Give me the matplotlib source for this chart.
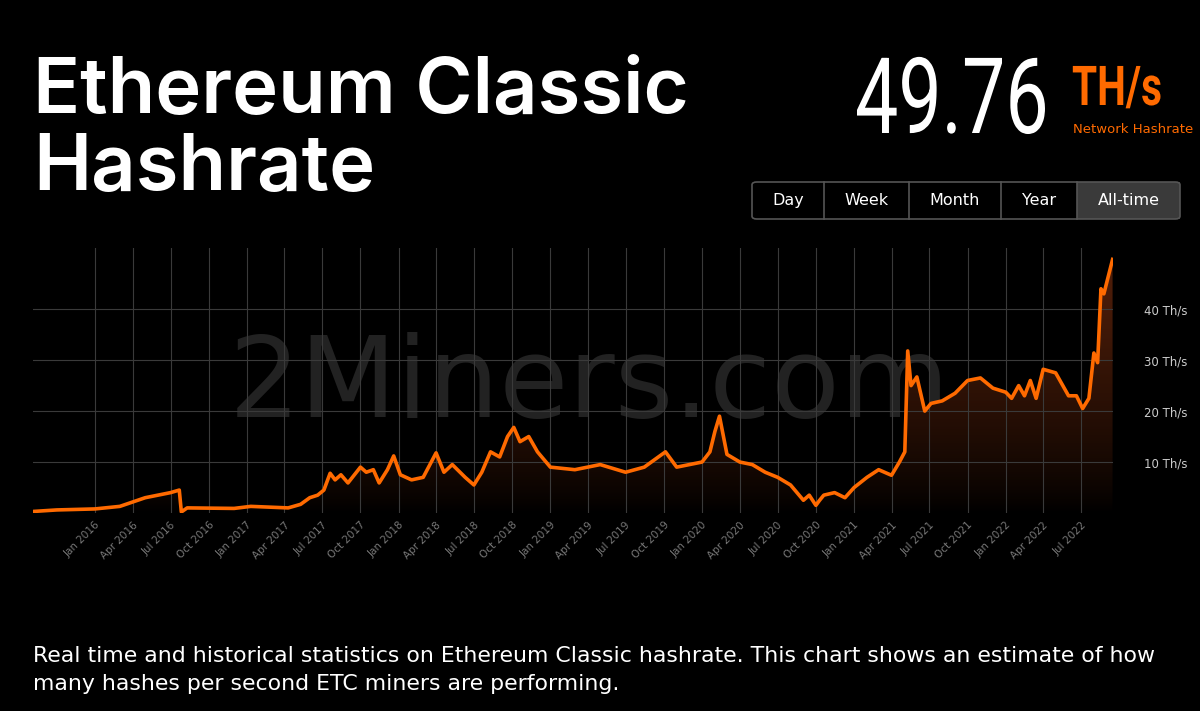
import matplotlib
matplotlib.use("Agg")
import matplotlib.pyplot as plt
import matplotlib.dates as mdates
from matplotlib.patches import FancyBboxPatch, Rectangle, PathPatch
from matplotlib.textpath import TextPath
from matplotlib.font_manager import FontProperties
from matplotlib.transforms import Affine2D, IdentityTransform
import numpy as np
import pandas as pd

DATES = [
    "2015-08-05", "2015-10-01", "2016-01-01", "2016-03-01", "2016-05-01", "2016-07-01",
    "2016-07-22", "2016-07-27", "2016-08-10", "2016-12-01", "2017-01-10", "2017-04-10",
    "2017-05-10", "2017-06-01", "2017-06-20", "2017-07-05", "2017-07-20", "2017-08-01",
    "2017-08-15", "2017-09-01", "2017-10-01", "2017-10-15", "2017-11-01", "2017-11-15",
    "2017-12-05", "2017-12-20", "2018-01-05", "2018-02-01", "2018-03-01", "2018-04-01",
    "2018-04-20", "2018-05-10", "2018-06-10", "2018-07-01", "2018-07-20", "2018-08-10",
    "2018-09-01", "2018-09-20", "2018-10-05", "2018-10-20", "2018-11-10", "2018-12-01",
    "2019-01-01", "2019-03-01", "2019-05-01", "2019-07-01", "2019-08-15", "2019-10-05",
    "2019-11-01", "2020-01-01", "2020-01-20", "2020-02-01", "2020-02-12", "2020-03-01",
    "2020-04-01", "2020-05-01", "2020-06-01", "2020-07-01", "2020-08-01", "2020-09-01",
    "2020-09-15", "2020-10-01", "2020-10-10", "2020-10-20", "2020-11-15", "2020-12-10",
    "2021-01-01", "2021-02-01", "2021-03-01", "2021-04-01", "2021-04-20", "2021-05-03",
    "2021-05-10", "2021-05-18", "2021-06-01", "2021-06-20", "2021-07-05", "2021-08-01",
    "2021-09-01", "2021-10-01", "2021-11-01", "2021-12-01", "2022-01-01", "2022-01-15",
    "2022-02-01", "2022-02-15", "2022-03-01", "2022-03-15", "2022-04-01", "2022-05-01",
    "2022-06-01", "2022-06-20", "2022-07-05", "2022-07-20", "2022-08-01", "2022-08-10",
    "2022-08-18", "2022-08-25", "2022-09-15",
]
HASHRATE = [
    0.3, 0.6, 0.8, 1.3, 3.0, 4.0,
    4.5, 0.2, 1.0, 0.9, 1.3, 1.0,
    1.7, 3.0, 3.5, 4.5, 7.8, 6.5,
    7.5, 5.9, 9.0, 8.0, 8.5, 5.9,
    8.5, 11.2, 7.5, 6.5, 7.0, 11.8,
    8.0, 9.5, 7.0, 5.5, 8.0, 12.0,
    11.0, 15.0, 16.8, 14.0, 15.0, 12.0,
    9.0, 8.5, 9.5, 8.0, 9.0, 12.0,
    9.0, 10.0, 12.0, 16.0, 19.0, 11.5,
    10.0, 9.5, 8.0, 7.0, 5.5, 2.5,
    3.5, 1.5, 2.5, 3.5, 4.0, 3.0,
    5.0, 7.0, 8.5, 7.4, 10.0, 12.0,
    31.8, 25.0, 26.7, 20.0, 21.5, 22.0,
    23.5, 26.0, 26.5, 24.5, 23.7, 22.5,
    25.0, 23.0, 26.0, 22.5, 28.2, 27.5,
    23.0, 23.0, 20.5, 22.5, 31.4, 29.5,
    44.0, 43.0, 49.76,
]
YTICKS = [10, 20, 30, 40]
ORANGE = "#ff6a00"
W, H = 1200, 711

x = pd.to_datetime(DATES)
y = np.array(HASHRATE)

fig = plt.figure(figsize=(12, 7.11), dpi=100, facecolor="black")
ax = fig.add_axes([33 / W, 1 - 513 / H, (1113 - 33) / W, (513 - 248) / H])
ax.set_facecolor("black")
x0, x1 = pd.Timestamp("2015-08-05"), pd.Timestamp("2022-09-16")
ax.set_xlim(x0, x1)
ax.set_ylim(0, 52)

# watermark
ax.text(0.515, 0.48, "2Miners.com", transform=ax.transAxes, fontsize=81, color="#222222",
        ha="center", va="center", zorder=0)

# gradient fill under the line
fill = ax.fill_between(x, y, 0, color="none", zorder=1)
grad = np.linspace(0, 1, 256).reshape(-1, 1) ** 0.8
cmap = matplotlib.colors.LinearSegmentedColormap.from_list("g", ["black", "#55200a"])
img = ax.imshow(grad, aspect="auto", cmap=cmap, origin="lower",
                extent=[mdates.date2num(x0), mdates.date2num(x1), 0, 52], zorder=1)
img.set_clip_path(fill.get_paths()[0], transform=ax.transData)

ax.plot(x, y, color=ORANGE, lw=2.6, zorder=3, solid_joinstyle="round")

ticks = pd.date_range("2016-01-01", "2022-07-01", freq="QS")
ax.set_xticks(ticks)
ax.xaxis.set_major_formatter(mdates.DateFormatter("%b %Y"))
ax.set_yticks(YTICKS)
ax.set_yticklabels([f"{v} Th/s" for v in YTICKS])
ax.yaxis.tick_right()
ax.tick_params(axis="y", length=0, pad=22, labelsize=8.5, labelcolor="#cccccc")
ax.tick_params(axis="x", length=0, pad=5, labelsize=7.5, labelcolor="#777777")
for lbl in ax.get_xticklabels():
    lbl.set_rotation(45)
    lbl.set_ha("right")
    lbl.set_rotation_mode("anchor")
ax.grid(True, color="#3a3a3a", lw=0.8)
for s in ax.spines.values():
    s.set_visible(False)


def condensed(text, left, baseline, cap_px, sx, color, weight="normal"):
    # draw text as a path squeezed horizontally (pixel coordinates, y from top)
    tp = TextPath((0, 0), text, size=100, prop=FontProperties(family="Roboto", weight=weight))
    s = cap_px / 71.0
    tr = Affine2D().scale(s * sx, s).translate(left, H - baseline)
    fig.patches.append(PathPatch(tr.transform_path(tp), transform=IdentityTransform(),
                                 facecolor=color, edgecolor="none"))


# header
fig.text(33 / W, 1 - 56 / H, "Ethereum Classic\nHashrate", color="white", fontsize=56,
         fontweight="semibold", va="top", ha="left", linespacing=1.07, family="Inter")
condensed("49.76", 855, 133, 75, 0.73, "white")
condensed("TH/s", 1072, 105, 39, 0.74, ORANGE, weight="bold")
fig.text(1073 / W, 1 - 133 / H, "Network Hashrate", color=ORANGE, fontsize=9.5,
         ha="left", va="baseline")

# range buttons
labels = ["Day", "Week", "Month", "Year", "All-time"]
edges = [752, 824, 909, 1001, 1077, 1180]
bt, bb = 1 - 182 / H, 1 - 219 / H
fig.patches.append(Rectangle((1077 / W, bb), (1180 - 1077) / W, bt - bb,
                             transform=fig.transFigure, facecolor="#3a3a3a", edgecolor="none"))
fig.patches.append(FancyBboxPatch((752 / W, bb), (1180 - 752) / W, bt - bb,
                                  boxstyle="round,pad=0,rounding_size=0.004",
                                  transform=fig.transFigure, facecolor="none",
                                  edgecolor="#555555", lw=1.2))
for i, lab in enumerate(labels):
    if i > 0:
        fig.add_artist(plt.Line2D([edges[i] / W] * 2, [bb, bt], color="#555555", lw=1.2))
    fig.text((edges[i] + edges[i + 1]) / (2 * W), (bt + bb) / 2, lab, color="white",
             fontsize=11.5, ha="center", va="center")

fig.text(33 / W, 1 - 670 / H,
         "Real time and historical statistics on Ethereum Classic hashrate. This chart shows an estimate of how\n"
         "many hashes per second ETC miners are performing.",
         color="white", fontsize=15.85, ha="left", va="center", linespacing=1.45)

fig.savefig("out.png", dpi=100, facecolor="black")
